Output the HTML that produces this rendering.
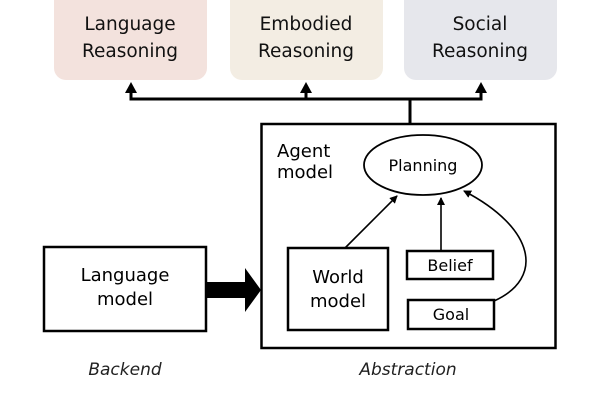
<!DOCTYPE html>
<html><head><meta charset="utf-8"><style>
html,body{margin:0;padding:0;background:#fff;}
svg{display:block;font-family:"DejaVu Sans","Liberation Sans",sans-serif;}
</style></head><body>
<svg width="600" height="400" viewBox="0 0 600 400" xmlns="http://www.w3.org/2000/svg">
<defs>
<marker id="a" markerWidth="8" markerHeight="8" refX="7" refY="4" orient="auto" markerUnits="userSpaceOnUse"><path d="M0,0 L8,4 L0,8 z" fill="#000"/></marker>
</defs>
<rect x="54" y="-12" width="153" height="92" rx="12" fill="#f3e2dd"/>
<rect x="230" y="-12" width="153" height="92" rx="12" fill="#f3ede3"/>
<rect x="404" y="-12" width="153" height="92" rx="12" fill="#e6e7ec"/>
<g font-size="18.5" text-anchor="middle" fill="#111">
<text x="130" y="30">Language</text><text x="130" y="57">Reasoning</text>
<text x="306" y="30">Embodied</text><text x="306" y="57">Reasoning</text>
<text x="480" y="30">Social</text><text x="480" y="57">Reasoning</text>
</g>
<g stroke="#000" stroke-width="3" fill="none">
<polyline points="131,92 131,99 481,99 481,92"/>
<line x1="306" y1="99" x2="306" y2="92"/>
<line x1="410" y1="99" x2="410" y2="124"/>
</g>
<g fill="#000">
<path d="M125,93 L131,82 L137,93 z"/>
<path d="M300,93 L306,82 L312,93 z"/>
<path d="M475,93 L481,82 L487,93 z"/>
</g>
<rect x="261.5" y="124" width="294" height="224" fill="none" stroke="#000" stroke-width="2.5"/>
<text x="277" y="157" font-size="18">Agent</text>
<text x="277" y="178" font-size="18">model</text>
<ellipse cx="423" cy="165" rx="59" ry="30" fill="none" stroke="#000" stroke-width="1.8"/>
<text x="423" y="171" font-size="16" text-anchor="middle">Planning</text>
<rect x="288" y="248" width="100" height="82" fill="none" stroke="#000" stroke-width="2.5"/>
<text x="338" y="283" font-size="18" text-anchor="middle">World</text>
<text x="338" y="307" font-size="18" text-anchor="middle">model</text>
<rect x="407" y="251" width="86" height="28" fill="none" stroke="#000" stroke-width="2.5"/>
<text x="450" y="271" font-size="16" text-anchor="middle">Belief</text>
<rect x="408" y="300" width="86" height="29" fill="none" stroke="#000" stroke-width="2.5"/>
<text x="451" y="320" font-size="16" text-anchor="middle">Goal</text>
<g stroke="#000" stroke-width="1.6" fill="none">
<line x1="345" y1="248" x2="397" y2="196" marker-end="url(#a)"/>
<line x1="441" y1="251" x2="441" y2="198" marker-end="url(#a)"/>
<path d="M494,301 C545,278 535,228 464,191" marker-end="url(#a)"/>
</g>
<rect x="44" y="247" width="162" height="84" fill="none" stroke="#000" stroke-width="2.5"/>
<text x="125" y="281" font-size="18" text-anchor="middle">Language</text>
<text x="125" y="305" font-size="18" text-anchor="middle">model</text>
<path d="M206,282 L245,282 L245,268 L261,290 L245,312 L245,298 L206,298 z" fill="#000"/>
<text x="125" y="375" font-size="17" font-style="italic" text-anchor="middle" fill="#222">Backend</text>
<text x="408" y="375" font-size="17" font-style="italic" text-anchor="middle" fill="#222">Abstraction</text>
</svg>
</body></html>
